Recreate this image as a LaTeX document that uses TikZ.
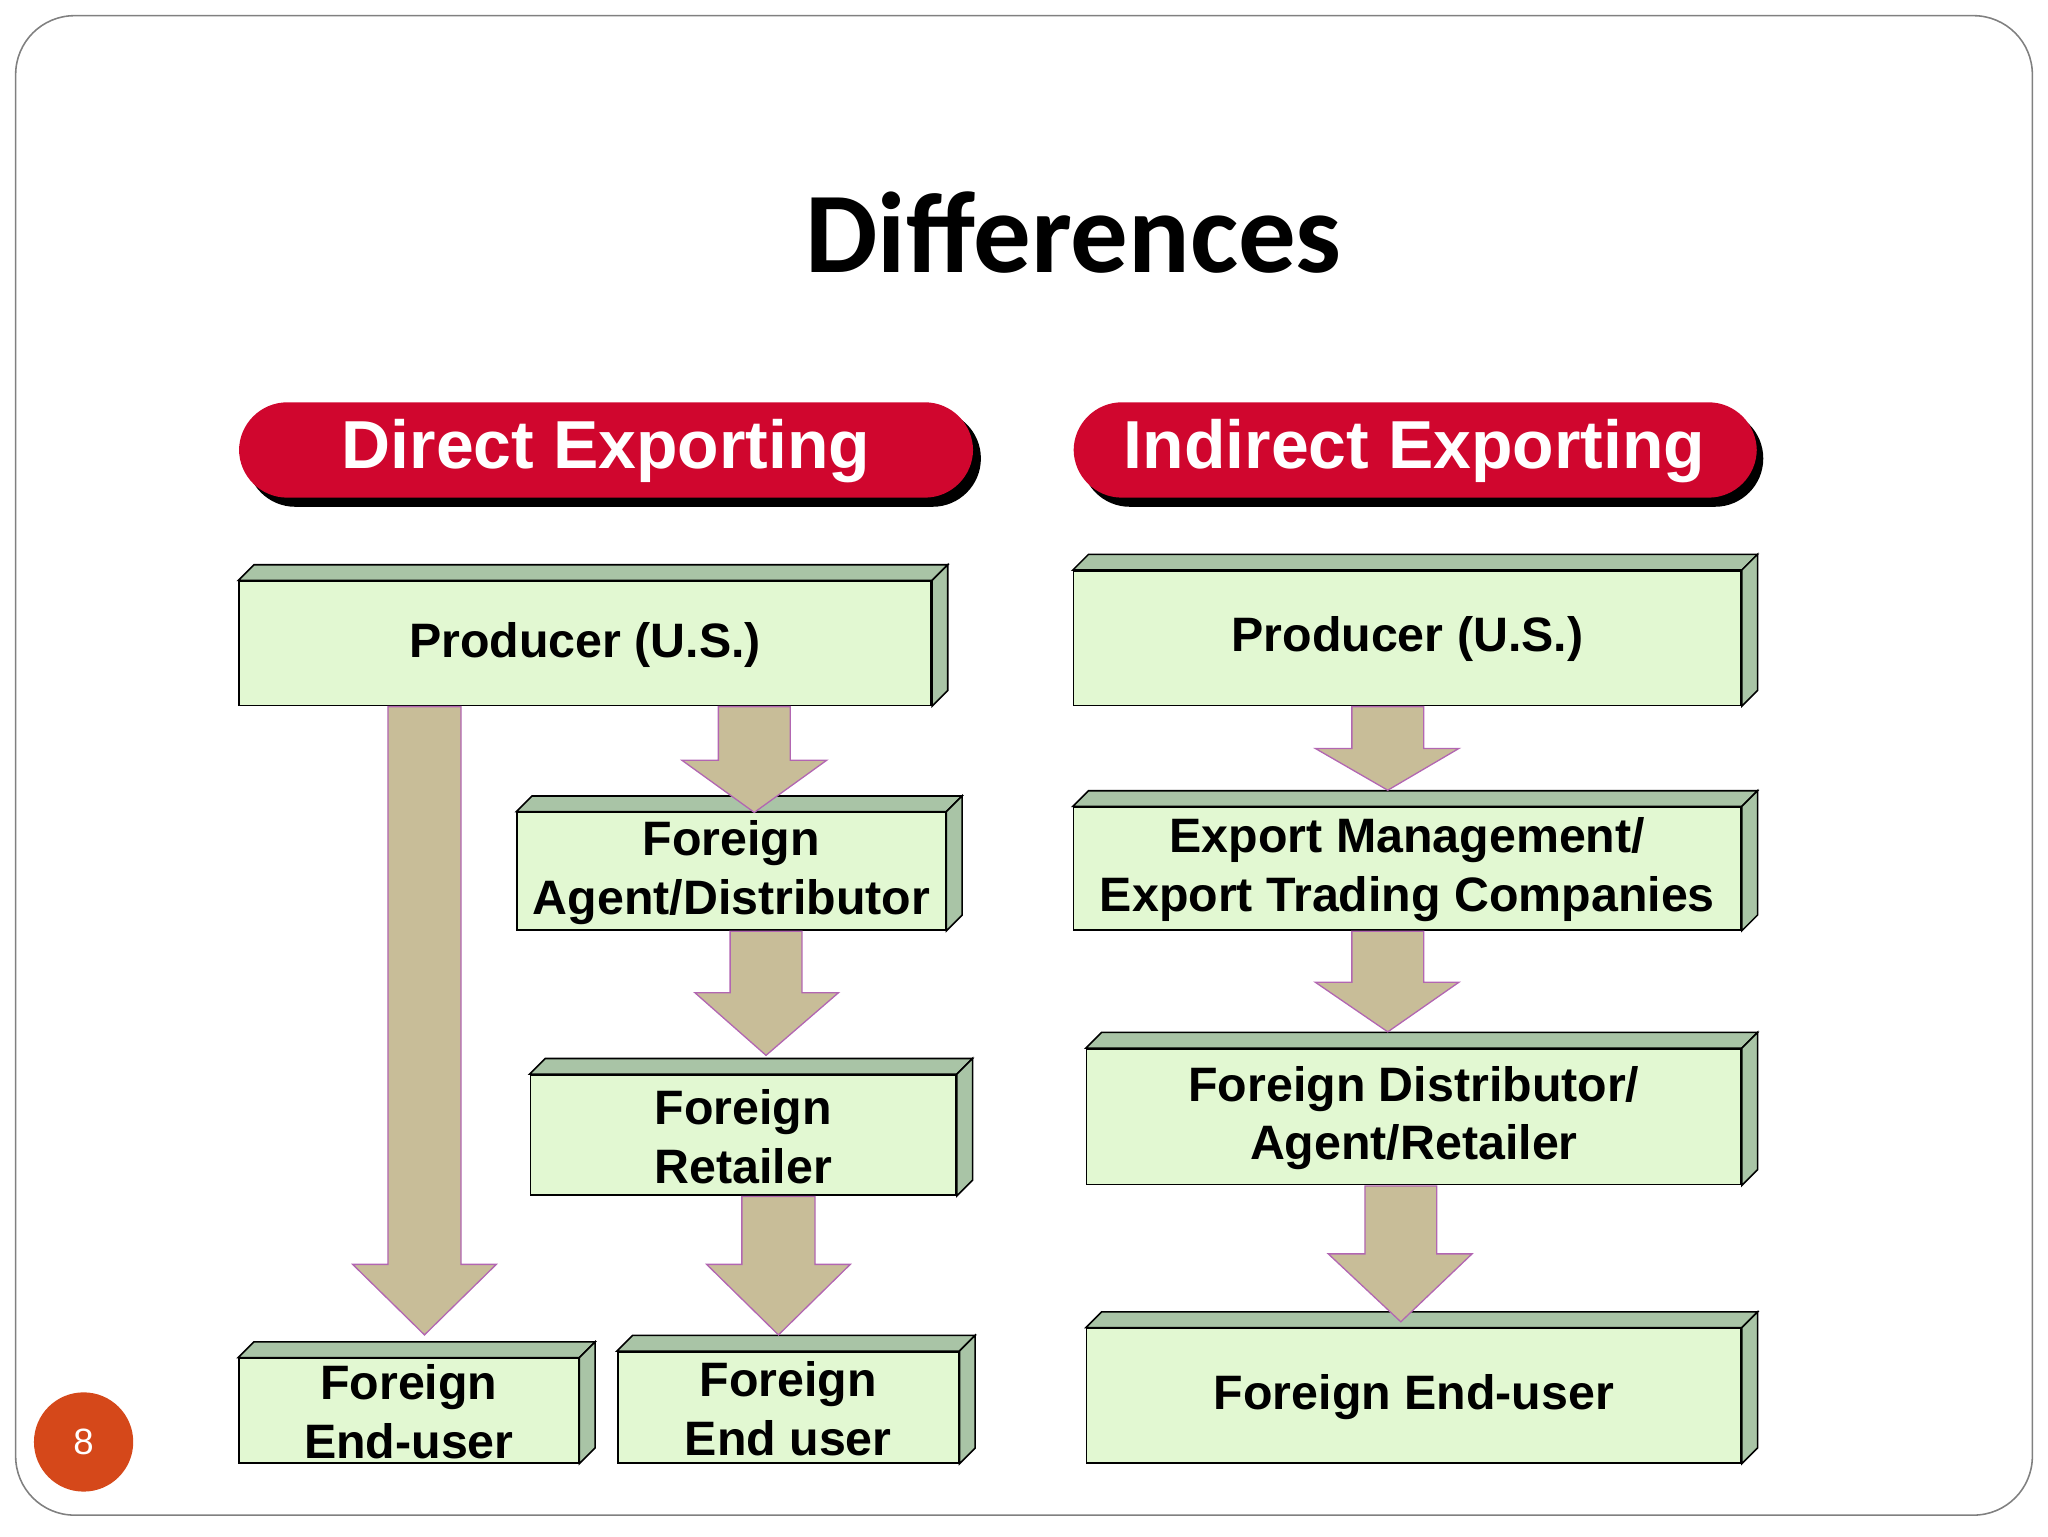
\documentclass[tikz,border=0pt]{standalone}
\usepackage{fontspec}
\setmainfont{Liberation Sans}
\newfontfamily\titlefont{Carlito}
\usetikzlibrary{fit}
\definecolor{boxgreen}{HTML}{E2F8D2}
\definecolor{topgreen}{HTML}{A9C4A6}
\definecolor{tan}{HTML}{C8BD98}
\definecolor{pillred}{HTML}{D0062E}
\definecolor{pagered}{HTML}{D5481A}
\tikzset{
 boxf/.style={draw=black, line width=1.2pt, fill=boxgreen, inner sep=0pt},
 boxt/.style={align=center, inner sep=0pt, font=\bfseries\fontsize{37}{45}\selectfont},
 facef/.style={draw=black, line width=1.2pt, fill=topgreen},
 arr/.style={fill=tan, draw=violet!60, line width=1pt},
 pill/.style={fill=pillred, rounded corners=37pt},
}
\newcommand{\bx}[6]{%
 \node[boxf, fit={(#2,#3)(#4,#5)}] (#1) {};
 \filldraw[facef] (#1.north west) -- ++(12,-12) -- ([shift={(12,-12)}]#1.north east) -- (#1.north east) -- cycle;
 \filldraw[facef] (#1.north east) -- ++(12,-12) -- ([shift={(12,-12)}]#1.south east) -- (#1.south east) -- cycle;
 \node[boxt] (#1t) at ([yshift=-1pt]#1.center) {#6};}
\newcommand{\ar}[7]{%
 \filldraw[arr] (#1,#3) -- (#1,#4) -- (#5,#4) -- ({(#1+#2)/2},#7) -- (#6,#4) -- (#2,#4) -- (#2,#3) -- cycle;}
\begin{document}
\begin{tikzpicture}[x=1pt,y=-1pt]
\useasboundingbox (0,0) rectangle (1568,1176);
\draw[gray, line width=1.2pt, rounded corners=45pt] (12,12) rectangle (1556,1160);
\node[font=\titlefont\bfseries\fontsize{88}{96}\selectfont] (title) at (822,178) {Differences};
\fill[black, rounded corners=37pt] (189,314) rectangle (751,388);
\fill[pill] (183,308) rectangle (745,381);
\node[text=white, font=\bfseries\fontsize{52}{60}\selectfont] (d) at (464,345) {Direct Exporting};
\fill[black, rounded corners=37pt] (828,314) rectangle (1350,388);
\fill[pill] (822,308) rectangle (1345,381);
\node[text=white, font=\bfseries\fontsize{52}{60}\selectfont] (i) at (1083,345) {Indirect Exporting};
\bx{p1}{183}{445}{713}{540}{Producer (U.S.)}
\bx{a1}{396}{622}{724}{712}{Foreign\\Agent/Distributor}
\bx{r1}{406}{823}{732}{915}{Foreign\\Retailer}
\bx{e1}{183}{1040}{443}{1120}{Foreign\\End-user}
\bx{e2}{473}{1035}{734}{1120}{Foreign\\End user}
\bx{p2}{822}{437}{1333}{540}{Producer (U.S.)}
\bx{m2}{822}{618}{1333}{712}{Export Management/\\Export Trading Companies}
\bx{f2}{832}{803}{1333}{907}{Foreign Distributor/\\Agent/Retailer}
\bx{e3}{832}{1017}{1333}{1120}{Foreign End-user}
\ar{297}{353}{541}{968}{270}{380}{1022}
\ar{550}{605}{541}{582}{522}{633}{622}
\ar{559}{614}{713}{760}{532}{642}{808}
\ar{568}{624}{916}{968}{541}{651}{1022}
\ar{1035}{1090}{541}{573}{1007}{1117}{605}
\ar{1035}{1090}{713}{752}{1007}{1117}{790}
\ar{1045}{1100}{908}{960}{1017}{1127}{1012}
\fill[pagered] (64,1104) circle (38);
\node[text=white, font=\fontsize{28}{32}\selectfont] (pg) at (64,1104) {8};
\end{tikzpicture}
\end{document}
